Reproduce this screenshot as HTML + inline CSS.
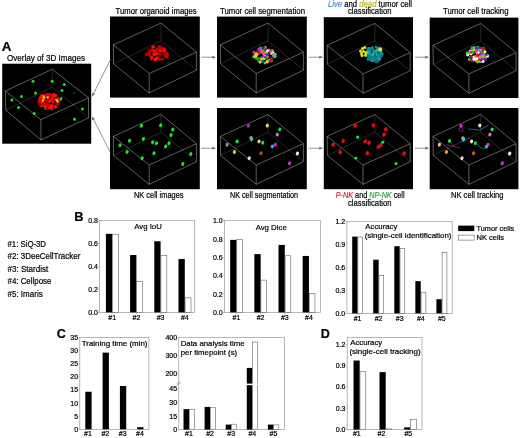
<!DOCTYPE html>
<html><head><meta charset="utf-8"><title>Figure</title>
<style>
html,body{margin:0;padding:0;background:#fff;}
body{width:520px;height:438px;overflow:hidden;font-family:"Liberation Sans", Arial, sans-serif;}
svg{display:block}
</style></head><body>
<svg width="520" height="438" viewBox="0 0 520 438">
<defs><filter id="b1" x="-5%" y="-5%" width="110%" height="110%"><feGaussianBlur stdDeviation="0.5"/></filter></defs>
<rect width="520" height="438" fill="#fff"/>
<g id="panels">
<rect x="2.2" y="63.7" width="89.0" height="80.0" fill="#000"/>
<line x1="52.2" y1="69.3" x2="52.2" y2="87.1" stroke="#555" stroke-width="0.45"/>
<line x1="52.2" y1="87.1" x2="5.8" y2="110.3" stroke="#555" stroke-width="0.45"/>
<line x1="52.2" y1="87.1" x2="88.5" y2="117.9" stroke="#555" stroke-width="0.45"/>
<line x1="5.4" y1="91.0" x2="52.2" y2="69.3" stroke="#b8b8b8" stroke-width="0.5"/>
<line x1="52.2" y1="69.3" x2="88.5" y2="97.7" stroke="#b8b8b8" stroke-width="0.5"/>
<line x1="88.5" y1="97.7" x2="40.9" y2="119.7" stroke="#b8b8b8" stroke-width="0.5"/>
<line x1="40.9" y1="119.7" x2="5.4" y2="91.0" stroke="#b8b8b8" stroke-width="0.5"/>
<line x1="5.4" y1="91.0" x2="5.8" y2="110.3" stroke="#b8b8b8" stroke-width="0.5"/>
<line x1="40.9" y1="119.7" x2="40.9" y2="139.9" stroke="#b8b8b8" stroke-width="0.5"/>
<line x1="88.5" y1="97.7" x2="88.5" y2="117.9" stroke="#b8b8b8" stroke-width="0.5"/>
<line x1="5.8" y1="110.3" x2="40.9" y2="139.9" stroke="#b8b8b8" stroke-width="0.5"/>
<line x1="40.9" y1="139.9" x2="88.5" y2="117.9" stroke="#b8b8b8" stroke-width="0.5"/>
<rect x="110.0" y="16.5" width="89.8" height="81.1" fill="#000"/>
<line x1="161.0" y1="23.0" x2="161.0" y2="40.7" stroke="#555" stroke-width="0.45"/>
<line x1="161.0" y1="40.7" x2="113.6" y2="63.9" stroke="#555" stroke-width="0.45"/>
<line x1="161.0" y1="40.7" x2="196.4" y2="70.2" stroke="#555" stroke-width="0.45"/>
<line x1="113.3" y1="44.9" x2="161.0" y2="23.0" stroke="#b8b8b8" stroke-width="0.5"/>
<line x1="161.0" y1="23.0" x2="196.4" y2="52.2" stroke="#b8b8b8" stroke-width="0.5"/>
<line x1="196.4" y1="52.2" x2="149.2" y2="73.5" stroke="#b8b8b8" stroke-width="0.5"/>
<line x1="149.2" y1="73.5" x2="113.3" y2="44.9" stroke="#b8b8b8" stroke-width="0.5"/>
<line x1="113.3" y1="44.9" x2="113.6" y2="63.9" stroke="#b8b8b8" stroke-width="0.5"/>
<line x1="149.2" y1="73.5" x2="149.2" y2="92.9" stroke="#b8b8b8" stroke-width="0.5"/>
<line x1="196.4" y1="52.2" x2="196.4" y2="70.2" stroke="#b8b8b8" stroke-width="0.5"/>
<line x1="113.6" y1="63.9" x2="149.2" y2="92.9" stroke="#b8b8b8" stroke-width="0.5"/>
<line x1="149.2" y1="92.9" x2="196.4" y2="70.2" stroke="#b8b8b8" stroke-width="0.5"/>
<rect x="110.0" y="108.0" width="89.8" height="81.2" fill="#000"/>
<line x1="161.0" y1="114.5" x2="161.0" y2="132.2" stroke="#555" stroke-width="0.45"/>
<line x1="161.0" y1="132.2" x2="113.6" y2="155.4" stroke="#555" stroke-width="0.45"/>
<line x1="161.0" y1="132.2" x2="196.4" y2="161.7" stroke="#555" stroke-width="0.45"/>
<line x1="113.3" y1="136.4" x2="161.0" y2="114.5" stroke="#b8b8b8" stroke-width="0.5"/>
<line x1="161.0" y1="114.5" x2="196.4" y2="143.7" stroke="#b8b8b8" stroke-width="0.5"/>
<line x1="196.4" y1="143.7" x2="149.2" y2="165.0" stroke="#b8b8b8" stroke-width="0.5"/>
<line x1="149.2" y1="165.0" x2="113.3" y2="136.4" stroke="#b8b8b8" stroke-width="0.5"/>
<line x1="113.3" y1="136.4" x2="113.6" y2="155.4" stroke="#b8b8b8" stroke-width="0.5"/>
<line x1="149.2" y1="165.0" x2="149.2" y2="184.4" stroke="#b8b8b8" stroke-width="0.5"/>
<line x1="196.4" y1="143.7" x2="196.4" y2="161.7" stroke="#b8b8b8" stroke-width="0.5"/>
<line x1="113.6" y1="155.4" x2="149.2" y2="184.4" stroke="#b8b8b8" stroke-width="0.5"/>
<line x1="149.2" y1="184.4" x2="196.4" y2="161.7" stroke="#b8b8b8" stroke-width="0.5"/>
<rect x="217.0" y="16.6" width="89.8" height="81.0" fill="#000"/>
<line x1="268.0" y1="23.0" x2="268.0" y2="40.7" stroke="#555" stroke-width="0.45"/>
<line x1="268.0" y1="40.7" x2="220.6" y2="63.9" stroke="#555" stroke-width="0.45"/>
<line x1="268.0" y1="40.7" x2="303.4" y2="70.2" stroke="#555" stroke-width="0.45"/>
<line x1="220.3" y1="44.9" x2="268.0" y2="23.0" stroke="#b8b8b8" stroke-width="0.5"/>
<line x1="268.0" y1="23.0" x2="303.4" y2="52.2" stroke="#b8b8b8" stroke-width="0.5"/>
<line x1="303.4" y1="52.2" x2="256.2" y2="73.5" stroke="#b8b8b8" stroke-width="0.5"/>
<line x1="256.2" y1="73.5" x2="220.3" y2="44.9" stroke="#b8b8b8" stroke-width="0.5"/>
<line x1="220.3" y1="44.9" x2="220.6" y2="63.9" stroke="#b8b8b8" stroke-width="0.5"/>
<line x1="256.2" y1="73.5" x2="256.2" y2="92.9" stroke="#b8b8b8" stroke-width="0.5"/>
<line x1="303.4" y1="52.2" x2="303.4" y2="70.2" stroke="#b8b8b8" stroke-width="0.5"/>
<line x1="220.6" y1="63.9" x2="256.2" y2="92.9" stroke="#b8b8b8" stroke-width="0.5"/>
<line x1="256.2" y1="92.9" x2="303.4" y2="70.2" stroke="#b8b8b8" stroke-width="0.5"/>
<rect x="217.0" y="108.0" width="89.8" height="81.2" fill="#000"/>
<line x1="268.0" y1="114.5" x2="268.0" y2="132.2" stroke="#555" stroke-width="0.45"/>
<line x1="268.0" y1="132.2" x2="220.6" y2="155.4" stroke="#555" stroke-width="0.45"/>
<line x1="268.0" y1="132.2" x2="303.4" y2="161.7" stroke="#555" stroke-width="0.45"/>
<line x1="220.3" y1="136.4" x2="268.0" y2="114.5" stroke="#b8b8b8" stroke-width="0.5"/>
<line x1="268.0" y1="114.5" x2="303.4" y2="143.7" stroke="#b8b8b8" stroke-width="0.5"/>
<line x1="303.4" y1="143.7" x2="256.2" y2="165.0" stroke="#b8b8b8" stroke-width="0.5"/>
<line x1="256.2" y1="165.0" x2="220.3" y2="136.4" stroke="#b8b8b8" stroke-width="0.5"/>
<line x1="220.3" y1="136.4" x2="220.6" y2="155.4" stroke="#b8b8b8" stroke-width="0.5"/>
<line x1="256.2" y1="165.0" x2="256.2" y2="184.4" stroke="#b8b8b8" stroke-width="0.5"/>
<line x1="303.4" y1="143.7" x2="303.4" y2="161.7" stroke="#b8b8b8" stroke-width="0.5"/>
<line x1="220.6" y1="155.4" x2="256.2" y2="184.4" stroke="#b8b8b8" stroke-width="0.5"/>
<line x1="256.2" y1="184.4" x2="303.4" y2="161.7" stroke="#b8b8b8" stroke-width="0.5"/>
<rect x="323.8" y="17.2" width="89.2" height="80.8" fill="#000"/>
<line x1="374.8" y1="23.4" x2="374.8" y2="41.1" stroke="#555" stroke-width="0.45"/>
<line x1="374.8" y1="41.1" x2="327.4" y2="64.3" stroke="#555" stroke-width="0.45"/>
<line x1="374.8" y1="41.1" x2="410.2" y2="70.6" stroke="#555" stroke-width="0.45"/>
<line x1="327.1" y1="45.3" x2="374.8" y2="23.4" stroke="#b8b8b8" stroke-width="0.5"/>
<line x1="374.8" y1="23.4" x2="410.2" y2="52.6" stroke="#b8b8b8" stroke-width="0.5"/>
<line x1="410.2" y1="52.6" x2="363.0" y2="73.9" stroke="#b8b8b8" stroke-width="0.5"/>
<line x1="363.0" y1="73.9" x2="327.1" y2="45.3" stroke="#b8b8b8" stroke-width="0.5"/>
<line x1="327.1" y1="45.3" x2="327.4" y2="64.3" stroke="#b8b8b8" stroke-width="0.5"/>
<line x1="363.0" y1="73.9" x2="363.0" y2="93.3" stroke="#b8b8b8" stroke-width="0.5"/>
<line x1="410.2" y1="52.6" x2="410.2" y2="70.6" stroke="#b8b8b8" stroke-width="0.5"/>
<line x1="327.4" y1="64.3" x2="363.0" y2="93.3" stroke="#b8b8b8" stroke-width="0.5"/>
<line x1="363.0" y1="93.3" x2="410.2" y2="70.6" stroke="#b8b8b8" stroke-width="0.5"/>
<rect x="323.8" y="108.0" width="89.2" height="81.2" fill="#000"/>
<line x1="374.8" y1="114.5" x2="374.8" y2="132.2" stroke="#555" stroke-width="0.45"/>
<line x1="374.8" y1="132.2" x2="327.4" y2="155.4" stroke="#555" stroke-width="0.45"/>
<line x1="374.8" y1="132.2" x2="410.2" y2="161.7" stroke="#555" stroke-width="0.45"/>
<line x1="327.1" y1="136.4" x2="374.8" y2="114.5" stroke="#b8b8b8" stroke-width="0.5"/>
<line x1="374.8" y1="114.5" x2="410.2" y2="143.7" stroke="#b8b8b8" stroke-width="0.5"/>
<line x1="410.2" y1="143.7" x2="363.0" y2="165.0" stroke="#b8b8b8" stroke-width="0.5"/>
<line x1="363.0" y1="165.0" x2="327.1" y2="136.4" stroke="#b8b8b8" stroke-width="0.5"/>
<line x1="327.1" y1="136.4" x2="327.4" y2="155.4" stroke="#b8b8b8" stroke-width="0.5"/>
<line x1="363.0" y1="165.0" x2="363.0" y2="184.4" stroke="#b8b8b8" stroke-width="0.5"/>
<line x1="410.2" y1="143.7" x2="410.2" y2="161.7" stroke="#b8b8b8" stroke-width="0.5"/>
<line x1="327.4" y1="155.4" x2="363.0" y2="184.4" stroke="#b8b8b8" stroke-width="0.5"/>
<line x1="363.0" y1="184.4" x2="410.2" y2="161.7" stroke="#b8b8b8" stroke-width="0.5"/>
<rect x="429.7" y="17.6" width="88.7" height="80.4" fill="#000"/>
<line x1="480.7" y1="23.4" x2="480.7" y2="41.1" stroke="#555" stroke-width="0.45"/>
<line x1="480.7" y1="41.1" x2="433.3" y2="64.3" stroke="#555" stroke-width="0.45"/>
<line x1="480.7" y1="41.1" x2="516.1" y2="70.6" stroke="#555" stroke-width="0.45"/>
<line x1="433.0" y1="45.3" x2="480.7" y2="23.4" stroke="#b8b8b8" stroke-width="0.5"/>
<line x1="480.7" y1="23.4" x2="516.1" y2="52.6" stroke="#b8b8b8" stroke-width="0.5"/>
<line x1="516.1" y1="52.6" x2="468.9" y2="73.9" stroke="#b8b8b8" stroke-width="0.5"/>
<line x1="468.9" y1="73.9" x2="433.0" y2="45.3" stroke="#b8b8b8" stroke-width="0.5"/>
<line x1="433.0" y1="45.3" x2="433.3" y2="64.3" stroke="#b8b8b8" stroke-width="0.5"/>
<line x1="468.9" y1="73.9" x2="468.9" y2="93.3" stroke="#b8b8b8" stroke-width="0.5"/>
<line x1="516.1" y1="52.6" x2="516.1" y2="70.6" stroke="#b8b8b8" stroke-width="0.5"/>
<line x1="433.3" y1="64.3" x2="468.9" y2="93.3" stroke="#b8b8b8" stroke-width="0.5"/>
<line x1="468.9" y1="93.3" x2="516.1" y2="70.6" stroke="#b8b8b8" stroke-width="0.5"/>
<rect x="429.7" y="108.0" width="88.7" height="81.2" fill="#000"/>
<line x1="480.7" y1="114.5" x2="480.7" y2="132.2" stroke="#555" stroke-width="0.45"/>
<line x1="480.7" y1="132.2" x2="433.3" y2="155.4" stroke="#555" stroke-width="0.45"/>
<line x1="480.7" y1="132.2" x2="516.1" y2="161.7" stroke="#555" stroke-width="0.45"/>
<line x1="433.0" y1="136.4" x2="480.7" y2="114.5" stroke="#b8b8b8" stroke-width="0.5"/>
<line x1="480.7" y1="114.5" x2="516.1" y2="143.7" stroke="#b8b8b8" stroke-width="0.5"/>
<line x1="516.1" y1="143.7" x2="468.9" y2="165.0" stroke="#b8b8b8" stroke-width="0.5"/>
<line x1="468.9" y1="165.0" x2="433.0" y2="136.4" stroke="#b8b8b8" stroke-width="0.5"/>
<line x1="433.0" y1="136.4" x2="433.3" y2="155.4" stroke="#b8b8b8" stroke-width="0.5"/>
<line x1="468.9" y1="165.0" x2="468.9" y2="184.4" stroke="#b8b8b8" stroke-width="0.5"/>
<line x1="516.1" y1="143.7" x2="516.1" y2="161.7" stroke="#b8b8b8" stroke-width="0.5"/>
<line x1="433.3" y1="155.4" x2="468.9" y2="184.4" stroke="#b8b8b8" stroke-width="0.5"/>
<line x1="468.9" y1="184.4" x2="516.1" y2="161.7" stroke="#b8b8b8" stroke-width="0.5"/>
</g>
<g filter="url(#b1)">
<ellipse cx="33.0" cy="81.2" rx="1.50" ry="1.50" fill="#22dd33"/>
<ellipse cx="52.2" cy="81.2" rx="1.50" ry="1.50" fill="#22dd33"/>
<ellipse cx="64.3" cy="84.5" rx="1.50" ry="1.50" fill="#22dd33"/>
<ellipse cx="62.0" cy="90.4" rx="1.50" ry="1.50" fill="#22dd33"/>
<ellipse cx="35.5" cy="92.9" rx="1.50" ry="1.50" fill="#22dd33"/>
<ellipse cx="21.5" cy="96.5" rx="1.50" ry="1.50" fill="#22dd33"/>
<ellipse cx="11.9" cy="100.0" rx="1.50" ry="1.50" fill="#22dd33"/>
<ellipse cx="18.6" cy="107.5" rx="1.50" ry="1.50" fill="#22dd33"/>
<ellipse cx="34.2" cy="113.4" rx="1.50" ry="1.50" fill="#22dd33"/>
<ellipse cx="82.5" cy="109.0" rx="1.50" ry="1.50" fill="#22dd33"/>
<ellipse cx="74.5" cy="119.2" rx="1.50" ry="1.50" fill="#22dd33"/>
<ellipse cx="45.5" cy="108.6" rx="1.30" ry="1.30" fill="#189028"/>
<ellipse cx="73.9" cy="93.1" rx="0.90" ry="0.90" fill="#116611"/>
<ellipse cx="45.0" cy="95.6" rx="1.79" ry="1.79" fill="#e00000"/>
<ellipse cx="50.6" cy="107.9" rx="1.39" ry="1.39" fill="#e00000"/>
<ellipse cx="47.4" cy="94.3" rx="1.28" ry="1.28" fill="#f01808"/>
<ellipse cx="39.3" cy="102.4" rx="2.05" ry="2.05" fill="#900000"/>
<ellipse cx="51.6" cy="108.6" rx="1.72" ry="1.72" fill="#f01808"/>
<ellipse cx="50.0" cy="95.4" rx="1.58" ry="1.58" fill="#b00000"/>
<ellipse cx="40.5" cy="98.2" rx="1.93" ry="1.93" fill="#ff1010"/>
<ellipse cx="40.2" cy="102.5" rx="1.37" ry="1.37" fill="#e00000"/>
<ellipse cx="49.8" cy="94.2" rx="1.25" ry="1.25" fill="#ff1010"/>
<ellipse cx="48.7" cy="101.8" rx="1.90" ry="1.90" fill="#f01808"/>
<ellipse cx="50.6" cy="100.5" rx="1.47" ry="1.47" fill="#ff1010"/>
<ellipse cx="53.1" cy="97.2" rx="1.72" ry="1.72" fill="#b00000"/>
<ellipse cx="48.7" cy="98.8" rx="1.60" ry="1.60" fill="#b00000"/>
<ellipse cx="47.0" cy="105.5" rx="1.34" ry="1.34" fill="#f01808"/>
<ellipse cx="47.1" cy="108.8" rx="1.27" ry="1.27" fill="#b00000"/>
<ellipse cx="50.4" cy="107.4" rx="1.48" ry="1.48" fill="#900000"/>
<ellipse cx="45.6" cy="101.2" rx="1.92" ry="1.92" fill="#e00000"/>
<ellipse cx="48.2" cy="104.0" rx="1.25" ry="1.25" fill="#900000"/>
<ellipse cx="44.7" cy="102.6" rx="1.81" ry="1.81" fill="#f01808"/>
<ellipse cx="44.1" cy="99.4" rx="1.80" ry="1.80" fill="#e00000"/>
<ellipse cx="58.3" cy="99.0" rx="1.75" ry="1.75" fill="#f01808"/>
<ellipse cx="40.8" cy="97.2" rx="1.55" ry="1.55" fill="#f01808"/>
<ellipse cx="39.7" cy="100.5" rx="1.69" ry="1.69" fill="#ff1010"/>
<ellipse cx="55.7" cy="107.2" rx="1.45" ry="1.45" fill="#f01808"/>
<ellipse cx="46.2" cy="96.9" rx="1.27" ry="1.27" fill="#ff1010"/>
<ellipse cx="43.0" cy="97.0" rx="1.64" ry="1.64" fill="#b00000"/>
<ellipse cx="41.9" cy="97.8" rx="1.33" ry="1.33" fill="#b00000"/>
<ellipse cx="46.0" cy="102.4" rx="2.06" ry="2.06" fill="#900000"/>
<ellipse cx="52.1" cy="105.2" rx="1.61" ry="1.61" fill="#900000"/>
<ellipse cx="55.2" cy="99.6" rx="1.56" ry="1.56" fill="#e00000"/>
<ellipse cx="48.4" cy="99.7" rx="1.37" ry="1.37" fill="#ff1010"/>
<ellipse cx="47.5" cy="95.0" rx="1.74" ry="1.74" fill="#e00000"/>
<ellipse cx="40.2" cy="99.1" rx="1.22" ry="1.22" fill="#ff1010"/>
<ellipse cx="51.3" cy="95.6" rx="1.43" ry="1.43" fill="#c80000"/>
<ellipse cx="51.0" cy="100.9" rx="1.30" ry="1.30" fill="#f01808"/>
<ellipse cx="59.5" cy="100.7" rx="1.64" ry="1.64" fill="#e00000"/>
<ellipse cx="41.1" cy="105.3" rx="1.87" ry="1.87" fill="#f01808"/>
<ellipse cx="55.9" cy="95.8" rx="1.22" ry="1.22" fill="#b00000"/>
<ellipse cx="45.8" cy="104.4" rx="2.02" ry="2.02" fill="#b00000"/>
<ellipse cx="44.4" cy="103.6" rx="1.28" ry="1.28" fill="#c80000"/>
<ellipse cx="49.2" cy="107.9" rx="1.52" ry="1.52" fill="#ff1010"/>
<ellipse cx="49.5" cy="105.8" rx="1.50" ry="1.50" fill="#ff1010"/>
<ellipse cx="51.2" cy="106.0" rx="1.88" ry="1.88" fill="#ff1010"/>
<ellipse cx="55.4" cy="106.5" rx="1.87" ry="1.87" fill="#ff1010"/>
<ellipse cx="42.3" cy="101.2" rx="1.86" ry="1.86" fill="#e00000"/>
<ellipse cx="55.1" cy="100.9" rx="1.37" ry="1.37" fill="#b00000"/>
<ellipse cx="58.7" cy="100.4" rx="2.04" ry="2.04" fill="#c80000"/>
<ellipse cx="58.6" cy="99.1" rx="1.40" ry="1.40" fill="#ff1010"/>
<ellipse cx="48.2" cy="98.7" rx="1.63" ry="1.63" fill="#b00000"/>
<ellipse cx="56.2" cy="101.0" rx="1.79" ry="1.79" fill="#900000"/>
<ellipse cx="39.8" cy="103.9" rx="2.02" ry="2.02" fill="#900000"/>
<ellipse cx="54.2" cy="100.9" rx="1.36" ry="1.36" fill="#900000"/>
<ellipse cx="45.2" cy="106.2" rx="2.07" ry="2.07" fill="#f01808"/>
<ellipse cx="48.0" cy="105.2" rx="1.28" ry="1.28" fill="#ff1010"/>
<ellipse cx="41.7" cy="95.3" rx="1.34" ry="1.34" fill="#f01808"/>
<ellipse cx="55.4" cy="95.6" rx="1.94" ry="1.94" fill="#f01808"/>
<ellipse cx="52.2" cy="98.9" rx="1.69" ry="1.69" fill="#ff1010"/>
<ellipse cx="53.7" cy="94.9" rx="1.87" ry="1.87" fill="#ff1010"/>
<ellipse cx="47.4" cy="107.3" rx="1.94" ry="1.94" fill="#ff1010"/>
<ellipse cx="48.8" cy="105.6" rx="1.49" ry="1.49" fill="#b00000"/>
<ellipse cx="47.1" cy="95.3" rx="2.02" ry="2.02" fill="#c80000"/>
<ellipse cx="57.4" cy="103.9" rx="1.93" ry="1.93" fill="#b00000"/>
<ellipse cx="47.1" cy="108.1" rx="1.65" ry="1.65" fill="#b00000"/>
<ellipse cx="41.3" cy="101.5" rx="1.99" ry="1.99" fill="#ff1010"/>
<ellipse cx="51.1" cy="105.8" rx="1.33" ry="1.33" fill="#ff1010"/>
<ellipse cx="48.2" cy="104.9" rx="1.70" ry="1.70" fill="#c80000"/>
<ellipse cx="52.7" cy="101.8" rx="1.63" ry="1.63" fill="#e00000"/>
<ellipse cx="40.1" cy="100.5" rx="1.23" ry="1.23" fill="#e00000"/>
<ellipse cx="47.6" cy="103.1" rx="1.65" ry="1.65" fill="#b00000"/>
<ellipse cx="42.3" cy="97.7" rx="1.66" ry="1.66" fill="#f01808"/>
<ellipse cx="49.0" cy="97.2" rx="1.67" ry="1.67" fill="#c80000"/>
<ellipse cx="42.4" cy="100.4" rx="1.57" ry="1.57" fill="#f01808"/>
<ellipse cx="47.5" cy="94.4" rx="1.42" ry="1.42" fill="#e00000"/>
<ellipse cx="42.6" cy="98.1" rx="1.31" ry="1.31" fill="#ff1010"/>
<ellipse cx="58.3" cy="103.6" rx="1.53" ry="1.53" fill="#c80000"/>
<ellipse cx="61.2" cy="98.6" rx="1.10" ry="2.00" fill="#22dd33" transform="rotate(15 61.2 98.6)"/>
<ellipse cx="43.6" cy="96.3" rx="1.15" ry="1.15" fill="#e8d820"/>
<ellipse cx="44.2" cy="98.0" rx="1.15" ry="1.15" fill="#e8d820"/>
<ellipse cx="47.7" cy="97.5" rx="1.15" ry="1.15" fill="#e8d820"/>
<ellipse cx="57.5" cy="101.5" rx="1.15" ry="1.15" fill="#e8d820"/>
<ellipse cx="56.5" cy="100.0" rx="1.15" ry="1.15" fill="#e8d820"/>
<ellipse cx="43.0" cy="100.5" rx="1.15" ry="1.15" fill="#e8d820"/>
<ellipse cx="154.8" cy="53.8" rx="1.89" ry="1.89" fill="#ff1010"/>
<ellipse cx="149.7" cy="53.0" rx="1.51" ry="1.51" fill="#c80000"/>
<ellipse cx="155.3" cy="51.9" rx="1.17" ry="1.17" fill="#c80000"/>
<ellipse cx="146.6" cy="54.8" rx="1.45" ry="1.45" fill="#e00000"/>
<ellipse cx="154.5" cy="54.3" rx="1.34" ry="1.34" fill="#e00000"/>
<ellipse cx="151.1" cy="59.6" rx="1.17" ry="1.17" fill="#c80000"/>
<ellipse cx="152.0" cy="48.5" rx="1.44" ry="1.44" fill="#700000"/>
<ellipse cx="163.9" cy="50.4" rx="1.22" ry="1.22" fill="#a80000"/>
<ellipse cx="158.5" cy="57.0" rx="1.17" ry="1.17" fill="#e00000"/>
<ellipse cx="163.5" cy="49.3" rx="1.82" ry="1.82" fill="#c80000"/>
<ellipse cx="166.5" cy="56.0" rx="1.74" ry="1.74" fill="#e00000"/>
<ellipse cx="159.3" cy="49.9" rx="1.31" ry="1.31" fill="#e00000"/>
<ellipse cx="156.0" cy="51.6" rx="1.54" ry="1.54" fill="#c80000"/>
<ellipse cx="159.6" cy="47.2" rx="1.67" ry="1.67" fill="#e00000"/>
<ellipse cx="159.8" cy="54.5" rx="1.26" ry="1.26" fill="#f01808"/>
<ellipse cx="157.0" cy="49.2" rx="1.38" ry="1.38" fill="#e00000"/>
<ellipse cx="146.6" cy="54.1" rx="1.88" ry="1.88" fill="#a80000"/>
<ellipse cx="156.5" cy="60.5" rx="1.19" ry="1.19" fill="#700000"/>
<ellipse cx="155.5" cy="53.9" rx="1.77" ry="1.77" fill="#f01808"/>
<ellipse cx="150.8" cy="50.0" rx="1.26" ry="1.26" fill="#700000"/>
<ellipse cx="161.9" cy="48.6" rx="1.89" ry="1.89" fill="#e00000"/>
<ellipse cx="159.7" cy="59.7" rx="1.44" ry="1.44" fill="#e00000"/>
<ellipse cx="165.0" cy="56.5" rx="1.33" ry="1.33" fill="#ff1010"/>
<ellipse cx="161.2" cy="47.2" rx="1.25" ry="1.25" fill="#c80000"/>
<ellipse cx="155.8" cy="50.5" rx="1.87" ry="1.87" fill="#a80000"/>
<ellipse cx="153.2" cy="47.0" rx="1.81" ry="1.81" fill="#ff1010"/>
<ellipse cx="154.4" cy="53.6" rx="1.50" ry="1.50" fill="#ff1010"/>
<ellipse cx="151.6" cy="58.1" rx="1.17" ry="1.17" fill="#e00000"/>
<ellipse cx="149.3" cy="55.3" rx="1.42" ry="1.42" fill="#c80000"/>
<ellipse cx="152.8" cy="50.0" rx="1.57" ry="1.57" fill="#a80000"/>
<ellipse cx="164.6" cy="48.8" rx="1.81" ry="1.81" fill="#a80000"/>
<ellipse cx="154.6" cy="51.4" rx="1.89" ry="1.89" fill="#ff1010"/>
<ellipse cx="152.3" cy="55.8" rx="1.22" ry="1.22" fill="#700000"/>
<ellipse cx="165.5" cy="55.9" rx="1.69" ry="1.69" fill="#a80000"/>
<ellipse cx="149.2" cy="54.4" rx="1.50" ry="1.50" fill="#e00000"/>
<ellipse cx="164.1" cy="55.3" rx="1.81" ry="1.81" fill="#700000"/>
<ellipse cx="166.9" cy="56.1" rx="1.17" ry="1.17" fill="#e00000"/>
<ellipse cx="149.1" cy="51.9" rx="1.18" ry="1.18" fill="#f01808"/>
<ellipse cx="158.3" cy="55.9" rx="1.60" ry="1.60" fill="#700000"/>
<ellipse cx="151.5" cy="50.5" rx="1.47" ry="1.47" fill="#e00000"/>
<ellipse cx="162.4" cy="54.0" rx="1.53" ry="1.53" fill="#700000"/>
<ellipse cx="157.6" cy="57.7" rx="1.48" ry="1.48" fill="#e00000"/>
<ellipse cx="164.5" cy="50.0" rx="1.71" ry="1.71" fill="#ff1010"/>
<ellipse cx="156.9" cy="52.2" rx="1.48" ry="1.48" fill="#700000"/>
<ellipse cx="159.9" cy="49.5" rx="1.58" ry="1.58" fill="#c80000"/>
<ellipse cx="151.7" cy="57.6" rx="1.34" ry="1.34" fill="#a80000"/>
<ellipse cx="149.1" cy="53.7" rx="1.49" ry="1.49" fill="#700000"/>
<ellipse cx="148.3" cy="49.8" rx="1.49" ry="1.49" fill="#700000"/>
<ellipse cx="157.4" cy="53.5" rx="1.47" ry="1.47" fill="#e00000"/>
<ellipse cx="167.7" cy="54.7" rx="1.35" ry="1.35" fill="#e00000"/>
<ellipse cx="156.1" cy="58.8" rx="1.87" ry="1.87" fill="#f01808"/>
<ellipse cx="162.3" cy="50.4" rx="1.39" ry="1.39" fill="#a80000"/>
<ellipse cx="163.9" cy="54.1" rx="1.81" ry="1.81" fill="#700000"/>
<ellipse cx="154.1" cy="54.0" rx="1.80" ry="1.80" fill="#f01808"/>
<ellipse cx="156.8" cy="53.3" rx="1.34" ry="1.34" fill="#ff1010"/>
<ellipse cx="155.2" cy="52.1" rx="1.20" ry="1.20" fill="#c80000"/>
<ellipse cx="166.2" cy="57.2" rx="1.82" ry="1.82" fill="#c80000"/>
<ellipse cx="154.6" cy="59.5" rx="1.16" ry="1.16" fill="#f01808"/>
<ellipse cx="162.5" cy="59.3" rx="1.32" ry="1.32" fill="#e00000"/>
<ellipse cx="164.2" cy="50.8" rx="1.85" ry="1.85" fill="#ff1010"/>
<ellipse cx="167.2" cy="53.0" rx="1.35" ry="1.35" fill="#c80000"/>
<ellipse cx="163.2" cy="52.9" rx="1.12" ry="1.12" fill="#700000"/>
<ellipse cx="154.8" cy="59.6" rx="1.54" ry="1.54" fill="#ff1010"/>
<ellipse cx="162.0" cy="53.3" rx="1.70" ry="1.70" fill="#700000"/>
<ellipse cx="165.0" cy="53.8" rx="1.83" ry="1.83" fill="#a80000"/>
<ellipse cx="148.9" cy="53.6" rx="1.37" ry="1.37" fill="#c80000"/>
<ellipse cx="151.7" cy="57.6" rx="1.62" ry="1.62" fill="#f01808"/>
<ellipse cx="160.4" cy="51.0" rx="1.55" ry="1.55" fill="#f01808"/>
<ellipse cx="148.8" cy="56.1" rx="1.16" ry="1.16" fill="#a80000"/>
<ellipse cx="165.8" cy="54.0" rx="1.28" ry="1.28" fill="#c80000"/>
<ellipse cx="141.4" cy="125.8" rx="1.55" ry="2.00" fill="#20e030" transform="rotate(25 141.4 125.8)"/>
<ellipse cx="160.7" cy="125.3" rx="1.55" ry="2.00" fill="#20e030" transform="rotate(25 160.7 125.3)"/>
<ellipse cx="172.8" cy="129.6" rx="1.55" ry="2.00" fill="#20e030" transform="rotate(25 172.8 129.6)"/>
<ellipse cx="171.0" cy="135.1" rx="1.55" ry="2.00" fill="#20e030" transform="rotate(25 171.0 135.1)"/>
<ellipse cx="129.6" cy="140.7" rx="1.55" ry="2.00" fill="#20e030" transform="rotate(25 129.6 140.7)"/>
<ellipse cx="143.4" cy="138.9" rx="1.55" ry="2.00" fill="#20e030" transform="rotate(25 143.4 138.9)"/>
<ellipse cx="152.7" cy="142.2" rx="1.55" ry="2.00" fill="#20e030" transform="rotate(25 152.7 142.2)"/>
<ellipse cx="156.5" cy="143.2" rx="1.55" ry="2.00" fill="#20e030" transform="rotate(25 156.5 143.2)"/>
<ellipse cx="169.0" cy="143.2" rx="1.55" ry="2.00" fill="#20e030" transform="rotate(25 169.0 143.2)"/>
<ellipse cx="165.7" cy="146.4" rx="1.55" ry="2.00" fill="#20e030" transform="rotate(25 165.7 146.4)"/>
<ellipse cx="120.1" cy="145.2" rx="1.55" ry="2.00" fill="#20e030" transform="rotate(25 120.1 145.2)"/>
<ellipse cx="127.1" cy="151.9" rx="1.55" ry="2.00" fill="#20e030" transform="rotate(25 127.1 151.9)"/>
<ellipse cx="154.0" cy="153.2" rx="1.55" ry="2.00" fill="#20e030" transform="rotate(25 154.0 153.2)"/>
<ellipse cx="142.2" cy="158.2" rx="1.55" ry="2.00" fill="#20e030" transform="rotate(25 142.2 158.2)"/>
<ellipse cx="190.8" cy="154.0" rx="1.55" ry="2.00" fill="#20e030" transform="rotate(25 190.8 154.0)"/>
<ellipse cx="182.8" cy="164.0" rx="1.55" ry="2.00" fill="#20e030" transform="rotate(25 182.8 164.0)"/>
<ellipse cx="182.3" cy="138.9" rx="0.70" ry="0.70" fill="#115511"/>
<ellipse cx="275.2" cy="54.2" rx="1.31" ry="1.31" fill="#e8d020"/>
<ellipse cx="258.7" cy="49.7" rx="1.64" ry="1.64" fill="#18c8c8"/>
<ellipse cx="258.6" cy="51.1" rx="1.66" ry="1.66" fill="#303030"/>
<ellipse cx="261.7" cy="59.0" rx="1.37" ry="1.37" fill="#e030c8"/>
<ellipse cx="260.7" cy="47.9" rx="1.42" ry="1.42" fill="#18c8c8"/>
<ellipse cx="256.1" cy="55.1" rx="1.70" ry="1.70" fill="#801890"/>
<ellipse cx="273.0" cy="53.1" rx="1.72" ry="1.72" fill="#ffffff"/>
<ellipse cx="273.0" cy="54.6" rx="1.67" ry="1.67" fill="#e01818"/>
<ellipse cx="273.7" cy="55.5" rx="1.57" ry="1.57" fill="#e88018"/>
<ellipse cx="258.8" cy="48.7" rx="1.32" ry="1.32" fill="#9030e0"/>
<ellipse cx="271.4" cy="58.3" rx="1.88" ry="1.88" fill="#303030"/>
<ellipse cx="263.4" cy="55.8" rx="1.23" ry="1.23" fill="#107828"/>
<ellipse cx="256.1" cy="56.1" rx="1.23" ry="1.23" fill="#60d848"/>
<ellipse cx="260.0" cy="49.0" rx="1.40" ry="1.40" fill="#e85890"/>
<ellipse cx="262.9" cy="59.3" rx="1.28" ry="1.28" fill="#e030c8"/>
<ellipse cx="264.8" cy="56.3" rx="1.51" ry="1.51" fill="#e8d020"/>
<ellipse cx="265.1" cy="63.0" rx="1.42" ry="1.42" fill="#18c8c8"/>
<ellipse cx="267.5" cy="61.2" rx="1.58" ry="1.58" fill="#e8d020"/>
<ellipse cx="265.3" cy="47.4" rx="1.53" ry="1.53" fill="#e85890"/>
<ellipse cx="264.3" cy="57.8" rx="1.54" ry="1.54" fill="#e030c8"/>
<ellipse cx="258.3" cy="53.8" rx="1.50" ry="1.50" fill="#e88018"/>
<ellipse cx="254.1" cy="52.4" rx="1.54" ry="1.54" fill="#e85890"/>
<ellipse cx="259.7" cy="60.6" rx="1.25" ry="1.25" fill="#e88018"/>
<ellipse cx="271.3" cy="50.6" rx="1.38" ry="1.38" fill="#107828"/>
<ellipse cx="267.0" cy="56.8" rx="1.92" ry="1.92" fill="#e88018"/>
<ellipse cx="262.5" cy="57.7" rx="1.96" ry="1.96" fill="#2840d8"/>
<ellipse cx="253.8" cy="56.6" rx="1.53" ry="1.53" fill="#60d848"/>
<ellipse cx="254.6" cy="53.3" rx="1.92" ry="1.92" fill="#303030"/>
<ellipse cx="260.2" cy="48.7" rx="1.26" ry="1.26" fill="#2840d8"/>
<ellipse cx="260.6" cy="49.9" rx="1.95" ry="1.95" fill="#60d848"/>
<ellipse cx="263.6" cy="52.0" rx="1.78" ry="1.78" fill="#801890"/>
<ellipse cx="261.5" cy="52.3" rx="1.34" ry="1.34" fill="#e01818"/>
<ellipse cx="262.5" cy="61.2" rx="1.65" ry="1.65" fill="#107828"/>
<ellipse cx="257.9" cy="52.7" rx="1.86" ry="1.86" fill="#801890"/>
<ellipse cx="268.8" cy="50.1" rx="1.63" ry="1.63" fill="#e88018"/>
<ellipse cx="257.6" cy="52.8" rx="1.92" ry="1.92" fill="#e01818"/>
<ellipse cx="267.2" cy="50.9" rx="1.70" ry="1.70" fill="#ffffff"/>
<ellipse cx="259.0" cy="59.0" rx="1.92" ry="1.92" fill="#18c8c8"/>
<ellipse cx="261.3" cy="52.3" rx="1.96" ry="1.96" fill="#e01818"/>
<ellipse cx="259.1" cy="58.5" rx="1.45" ry="1.45" fill="#e030c8"/>
<ellipse cx="259.9" cy="58.6" rx="1.68" ry="1.68" fill="#107828"/>
<ellipse cx="267.2" cy="62.2" rx="1.22" ry="1.22" fill="#e8d020"/>
<ellipse cx="255.7" cy="58.5" rx="1.57" ry="1.57" fill="#107828"/>
<ellipse cx="261.8" cy="51.0" rx="1.54" ry="1.54" fill="#e88018"/>
<ellipse cx="256.2" cy="54.9" rx="1.21" ry="1.21" fill="#303030"/>
<ellipse cx="269.5" cy="60.2" rx="1.82" ry="1.82" fill="#d8b890"/>
<ellipse cx="258.5" cy="60.9" rx="1.57" ry="1.57" fill="#107828"/>
<ellipse cx="257.7" cy="59.1" rx="1.40" ry="1.40" fill="#18b038"/>
<ellipse cx="267.6" cy="54.7" rx="1.64" ry="1.64" fill="#2840d8"/>
<ellipse cx="264.3" cy="58.4" rx="1.56" ry="1.56" fill="#e8d020"/>
<ellipse cx="256.2" cy="54.4" rx="1.91" ry="1.91" fill="#e8d020"/>
<ellipse cx="269.7" cy="60.6" rx="1.73" ry="1.73" fill="#18b038"/>
<ellipse cx="270.4" cy="51.7" rx="1.42" ry="1.42" fill="#e030c8"/>
<ellipse cx="261.5" cy="58.9" rx="1.36" ry="1.36" fill="#e8d020"/>
<ellipse cx="257.4" cy="50.7" rx="1.43" ry="1.43" fill="#303030"/>
<ellipse cx="266.0" cy="52.2" rx="1.52" ry="1.52" fill="#e8d020"/>
<ellipse cx="264.5" cy="50.6" rx="1.85" ry="1.85" fill="#e85890"/>
<ellipse cx="263.5" cy="47.5" rx="1.20" ry="1.20" fill="#303030"/>
<ellipse cx="271.3" cy="60.5" rx="1.93" ry="1.93" fill="#e01818"/>
<ellipse cx="272.6" cy="50.7" rx="1.24" ry="1.24" fill="#d8b890"/>
<ellipse cx="274.7" cy="56.3" rx="1.94" ry="1.94" fill="#18c8c8"/>
<ellipse cx="264.6" cy="49.8" rx="1.68" ry="1.68" fill="#107828"/>
<ellipse cx="255.6" cy="56.6" rx="1.70" ry="1.70" fill="#e8d020"/>
<ellipse cx="254.1" cy="52.4" rx="1.24" ry="1.24" fill="#e030c8"/>
<ellipse cx="271.3" cy="53.5" rx="1.50" ry="1.50" fill="#d8b890"/>
<ellipse cx="260.2" cy="50.2" rx="1.84" ry="1.84" fill="#9030e0"/>
<ellipse cx="263.9" cy="53.5" rx="1.84" ry="1.84" fill="#e85890"/>
<ellipse cx="265.4" cy="57.3" rx="1.27" ry="1.27" fill="#2840d8"/>
<ellipse cx="262.1" cy="51.3" rx="1.99" ry="1.99" fill="#e85890"/>
<ellipse cx="260.1" cy="62.3" rx="1.45" ry="1.45" fill="#d8b890"/>
<ellipse cx="248.4" cy="125.8" rx="1.60" ry="2.00" fill="#9030b0" transform="rotate(15 248.4 125.8)"/>
<ellipse cx="267.3" cy="125.6" rx="1.60" ry="2.00" fill="#e8d070" transform="rotate(15 267.3 125.6)"/>
<ellipse cx="279.8" cy="129.4" rx="1.60" ry="2.00" fill="#20d060" transform="rotate(15 279.8 129.4)"/>
<ellipse cx="277.3" cy="134.6" rx="1.60" ry="2.00" fill="#d070d0" transform="rotate(15 277.3 134.6)"/>
<ellipse cx="251.0" cy="138.0" rx="1.60" ry="2.00" fill="#ff9040" transform="rotate(15 251.0 138.0)"/>
<ellipse cx="251.6" cy="139.2" rx="1.60" ry="2.00" fill="#30c0c0" transform="rotate(15 251.6 139.2)"/>
<ellipse cx="237.1" cy="141.4" rx="1.60" ry="2.00" fill="#20e050" transform="rotate(15 237.1 141.4)"/>
<ellipse cx="259.0" cy="141.4" rx="1.60" ry="2.00" fill="#e0d0a0" transform="rotate(15 259.0 141.4)"/>
<ellipse cx="262.7" cy="142.7" rx="1.60" ry="2.00" fill="#30d060" transform="rotate(15 262.7 142.7)"/>
<ellipse cx="275.3" cy="144.7" rx="1.60" ry="2.00" fill="#e020e0" transform="rotate(15 275.3 144.7)"/>
<ellipse cx="272.3" cy="146.4" rx="1.60" ry="2.00" fill="#20c0d0" transform="rotate(15 272.3 146.4)"/>
<ellipse cx="227.1" cy="144.7" rx="1.60" ry="2.00" fill="#8a9080" transform="rotate(15 227.1 144.7)"/>
<ellipse cx="234.4" cy="152.0" rx="1.60" ry="2.00" fill="#e8c040" transform="rotate(15 234.4 152.0)"/>
<ellipse cx="261.0" cy="153.2" rx="1.60" ry="2.00" fill="#c04828" transform="rotate(15 261.0 153.2)"/>
<ellipse cx="249.2" cy="158.2" rx="1.60" ry="2.00" fill="#f0d8c0" transform="rotate(15 249.2 158.2)"/>
<ellipse cx="297.4" cy="153.5" rx="1.60" ry="2.00" fill="#f0f0e0" transform="rotate(15 297.4 153.5)"/>
<ellipse cx="289.6" cy="163.2" rx="1.60" ry="2.00" fill="#d030d0" transform="rotate(15 289.6 163.2)"/>
<ellipse cx="379.9" cy="53.0" rx="1.32" ry="1.32" fill="#0c8088"/>
<ellipse cx="376.1" cy="52.7" rx="1.66" ry="1.66" fill="#109098"/>
<ellipse cx="372.8" cy="49.0" rx="1.40" ry="1.40" fill="#109098"/>
<ellipse cx="372.3" cy="60.5" rx="1.71" ry="1.71" fill="#18a0a8"/>
<ellipse cx="368.1" cy="59.3" rx="1.66" ry="1.66" fill="#0a7078"/>
<ellipse cx="375.7" cy="52.4" rx="1.75" ry="1.75" fill="#18a0a8"/>
<ellipse cx="371.4" cy="49.0" rx="1.45" ry="1.45" fill="#109098"/>
<ellipse cx="367.6" cy="54.2" rx="2.02" ry="2.02" fill="#18a0a8"/>
<ellipse cx="370.7" cy="59.7" rx="1.34" ry="1.34" fill="#20a8b0"/>
<ellipse cx="370.9" cy="56.1" rx="1.87" ry="1.87" fill="#109098"/>
<ellipse cx="380.2" cy="56.3" rx="2.04" ry="2.04" fill="#18a0a8"/>
<ellipse cx="376.0" cy="60.0" rx="1.86" ry="1.86" fill="#0a7078"/>
<ellipse cx="379.3" cy="59.6" rx="1.46" ry="1.46" fill="#18a0a8"/>
<ellipse cx="368.4" cy="52.2" rx="1.43" ry="1.43" fill="#18a0a8"/>
<ellipse cx="366.5" cy="55.4" rx="1.98" ry="1.98" fill="#109098"/>
<ellipse cx="376.5" cy="51.6" rx="1.65" ry="1.65" fill="#20a8b0"/>
<ellipse cx="374.6" cy="56.4" rx="1.58" ry="1.58" fill="#20a8b0"/>
<ellipse cx="370.8" cy="50.4" rx="1.65" ry="1.65" fill="#0c8088"/>
<ellipse cx="373.0" cy="53.4" rx="1.32" ry="1.32" fill="#0a7078"/>
<ellipse cx="381.5" cy="53.8" rx="1.70" ry="1.70" fill="#0a7078"/>
<ellipse cx="378.2" cy="53.7" rx="1.46" ry="1.46" fill="#20a8b0"/>
<ellipse cx="372.2" cy="47.5" rx="1.62" ry="1.62" fill="#0c8088"/>
<ellipse cx="367.3" cy="53.5" rx="1.76" ry="1.76" fill="#109098"/>
<ellipse cx="380.5" cy="51.4" rx="1.95" ry="1.95" fill="#109098"/>
<ellipse cx="366.7" cy="54.5" rx="1.64" ry="1.64" fill="#18a0a8"/>
<ellipse cx="375.6" cy="57.4" rx="1.40" ry="1.40" fill="#18a0a8"/>
<ellipse cx="381.4" cy="54.3" rx="2.16" ry="2.16" fill="#18a0a8"/>
<ellipse cx="376.7" cy="57.9" rx="1.50" ry="1.50" fill="#0c8088"/>
<ellipse cx="375.5" cy="50.5" rx="1.59" ry="1.59" fill="#0a7078"/>
<ellipse cx="370.2" cy="59.4" rx="1.43" ry="1.43" fill="#0a7078"/>
<ellipse cx="381.2" cy="54.1" rx="1.83" ry="1.83" fill="#0a7078"/>
<ellipse cx="373.9" cy="51.5" rx="1.33" ry="1.33" fill="#18a0a8"/>
<ellipse cx="372.3" cy="56.6" rx="1.55" ry="1.55" fill="#0c8088"/>
<ellipse cx="378.3" cy="48.3" rx="1.78" ry="1.78" fill="#0c8088"/>
<ellipse cx="381.2" cy="53.7" rx="1.77" ry="1.77" fill="#109098"/>
<ellipse cx="369.9" cy="55.0" rx="2.07" ry="2.07" fill="#0c8088"/>
<ellipse cx="375.0" cy="52.2" rx="1.99" ry="1.99" fill="#20a8b0"/>
<ellipse cx="369.5" cy="56.2" rx="2.16" ry="2.16" fill="#0c8088"/>
<ellipse cx="378.9" cy="50.5" rx="1.88" ry="1.88" fill="#0a7078"/>
<ellipse cx="377.5" cy="58.3" rx="1.50" ry="1.50" fill="#0c8088"/>
<ellipse cx="375.6" cy="53.3" rx="1.76" ry="1.76" fill="#109098"/>
<ellipse cx="368.0" cy="50.1" rx="1.89" ry="1.89" fill="#109098"/>
<ellipse cx="366.7" cy="55.5" rx="1.57" ry="1.57" fill="#0a7078"/>
<ellipse cx="371.5" cy="50.0" rx="1.83" ry="1.83" fill="#0a7078"/>
<ellipse cx="368.0" cy="52.3" rx="2.05" ry="2.05" fill="#18a0a8"/>
<ellipse cx="369.7" cy="48.8" rx="1.39" ry="1.39" fill="#18a0a8"/>
<ellipse cx="379.7" cy="58.9" rx="1.66" ry="1.66" fill="#0c8088"/>
<ellipse cx="375.3" cy="55.6" rx="1.84" ry="1.84" fill="#0a7078"/>
<ellipse cx="377.5" cy="50.4" rx="2.11" ry="2.11" fill="#109098"/>
<ellipse cx="368.8" cy="49.0" rx="2.12" ry="2.12" fill="#109098"/>
<ellipse cx="366.1" cy="55.2" rx="2.15" ry="2.15" fill="#18a0a8"/>
<ellipse cx="372.4" cy="54.7" rx="1.88" ry="1.88" fill="#20a8b0"/>
<ellipse cx="378.8" cy="49.2" rx="1.58" ry="1.58" fill="#0c8088"/>
<ellipse cx="377.4" cy="54.1" rx="1.78" ry="1.78" fill="#20a8b0"/>
<ellipse cx="379.3" cy="58.3" rx="1.72" ry="1.72" fill="#20a8b0"/>
<ellipse cx="370.0" cy="56.7" rx="1.41" ry="1.41" fill="#0c8088"/>
<ellipse cx="377.2" cy="50.7" rx="1.80" ry="1.80" fill="#20a8b0"/>
<ellipse cx="376.7" cy="61.0" rx="2.17" ry="2.17" fill="#0c8088"/>
<ellipse cx="376.0" cy="61.8" rx="1.50" ry="1.50" fill="#0a7078"/>
<ellipse cx="369.6" cy="58.3" rx="2.15" ry="2.15" fill="#0c8088"/>
<ellipse cx="368.9" cy="52.6" rx="1.84" ry="1.84" fill="#20a8b0"/>
<ellipse cx="380.3" cy="56.5" rx="1.92" ry="1.92" fill="#0a7078"/>
<ellipse cx="373.3" cy="59.8" rx="1.93" ry="1.93" fill="#109098"/>
<ellipse cx="372.8" cy="58.0" rx="1.81" ry="1.81" fill="#0c8088"/>
<ellipse cx="378.4" cy="52.7" rx="1.83" ry="1.83" fill="#0a7078"/>
<ellipse cx="380.6" cy="51.9" rx="1.43" ry="1.43" fill="#109098"/>
<ellipse cx="376.1" cy="47.2" rx="1.36" ry="1.36" fill="#109098"/>
<ellipse cx="366.9" cy="55.8" rx="1.63" ry="1.63" fill="#0a7078"/>
<ellipse cx="369.1" cy="48.3" rx="1.33" ry="1.33" fill="#109098"/>
<ellipse cx="378.9" cy="56.5" rx="1.56" ry="1.56" fill="#109098"/>
<ellipse cx="360.5" cy="51.0" rx="1.50" ry="1.50" fill="#e8e020"/>
<ellipse cx="361.5" cy="53.5" rx="1.50" ry="1.50" fill="#e8e020"/>
<ellipse cx="362.5" cy="48.5" rx="1.50" ry="1.50" fill="#e8e020"/>
<ellipse cx="363.5" cy="51.5" rx="1.50" ry="1.50" fill="#e8e020"/>
<ellipse cx="364.8" cy="47.5" rx="1.50" ry="1.50" fill="#e8e020"/>
<ellipse cx="365.5" cy="55.0" rx="1.50" ry="1.50" fill="#e8e020"/>
<ellipse cx="362.0" cy="55.5" rx="1.50" ry="1.50" fill="#e8e020"/>
<ellipse cx="366.0" cy="52.5" rx="1.50" ry="1.50" fill="#e8e020"/>
<ellipse cx="380.2" cy="49.4" rx="2.10" ry="2.10" fill="#d8e838"/>
<ellipse cx="355.2" cy="125.8" rx="1.80" ry="2.20" fill="#d81018" transform="rotate(15 355.2 125.8)"/>
<ellipse cx="373.5" cy="125.3" rx="1.80" ry="2.20" fill="#d81018" transform="rotate(15 373.5 125.3)"/>
<ellipse cx="385.8" cy="129.4" rx="1.80" ry="2.20" fill="#d81018" transform="rotate(15 385.8 129.4)"/>
<ellipse cx="384.0" cy="134.6" rx="1.80" ry="2.20" fill="#d81018" transform="rotate(15 384.0 134.6)"/>
<ellipse cx="343.2" cy="140.9" rx="1.80" ry="2.20" fill="#d81018" transform="rotate(15 343.2 140.9)"/>
<ellipse cx="333.1" cy="144.7" rx="1.80" ry="2.20" fill="#d81018" transform="rotate(15 333.1 144.7)"/>
<ellipse cx="365.2" cy="141.4" rx="1.80" ry="2.20" fill="#d81018" transform="rotate(15 365.2 141.4)"/>
<ellipse cx="369.0" cy="142.7" rx="1.80" ry="2.20" fill="#d81018" transform="rotate(15 369.0 142.7)"/>
<ellipse cx="380.8" cy="145.2" rx="1.80" ry="2.20" fill="#d81018" transform="rotate(15 380.8 145.2)"/>
<ellipse cx="378.3" cy="146.9" rx="1.80" ry="2.20" fill="#d81018" transform="rotate(15 378.3 146.9)"/>
<ellipse cx="340.2" cy="152.2" rx="1.80" ry="2.20" fill="#d81018" transform="rotate(15 340.2 152.2)"/>
<ellipse cx="367.3" cy="153.2" rx="1.80" ry="2.20" fill="#d81018" transform="rotate(15 367.3 153.2)"/>
<ellipse cx="404.1" cy="153.5" rx="1.80" ry="2.20" fill="#d81018" transform="rotate(15 404.1 153.5)"/>
<ellipse cx="357.7" cy="137.2" rx="1.60" ry="1.60" fill="#20e030"/>
<ellipse cx="382.7" cy="142.2" rx="1.60" ry="1.60" fill="#20e030"/>
<ellipse cx="355.8" cy="158.0" rx="1.60" ry="1.60" fill="#20e030"/>
<ellipse cx="396.0" cy="163.6" rx="1.60" ry="1.60" fill="#20e030"/>
<ellipse cx="469.8" cy="59.2" rx="1.72" ry="1.72" fill="#d8b890"/>
<ellipse cx="473.7" cy="53.1" rx="1.22" ry="1.22" fill="#9030e0"/>
<ellipse cx="482.8" cy="61.2" rx="1.82" ry="1.82" fill="#f0f0f0"/>
<ellipse cx="476.9" cy="50.9" rx="1.80" ry="1.80" fill="#801890"/>
<ellipse cx="467.7" cy="54.7" rx="1.28" ry="1.28" fill="#ffffff"/>
<ellipse cx="481.6" cy="55.0" rx="1.37" ry="1.37" fill="#2840d8"/>
<ellipse cx="478.9" cy="50.9" rx="1.55" ry="1.55" fill="#f0f0f0"/>
<ellipse cx="471.2" cy="58.7" rx="1.98" ry="1.98" fill="#e01818"/>
<ellipse cx="474.2" cy="47.7" rx="1.76" ry="1.76" fill="#18c8c8"/>
<ellipse cx="487.1" cy="55.9" rx="1.97" ry="1.97" fill="#f0f0f0"/>
<ellipse cx="472.9" cy="49.7" rx="1.76" ry="1.76" fill="#ffffff"/>
<ellipse cx="482.9" cy="54.2" rx="1.99" ry="1.99" fill="#e8d020"/>
<ellipse cx="480.0" cy="52.0" rx="1.52" ry="1.52" fill="#107828"/>
<ellipse cx="485.5" cy="58.5" rx="1.54" ry="1.54" fill="#e01818"/>
<ellipse cx="474.7" cy="51.1" rx="1.54" ry="1.54" fill="#f0f0f0"/>
<ellipse cx="480.1" cy="61.8" rx="1.30" ry="1.30" fill="#18b038"/>
<ellipse cx="474.3" cy="51.5" rx="1.32" ry="1.32" fill="#303030"/>
<ellipse cx="480.8" cy="58.4" rx="1.34" ry="1.34" fill="#303030"/>
<ellipse cx="481.3" cy="50.4" rx="1.38" ry="1.38" fill="#e85890"/>
<ellipse cx="476.6" cy="60.8" rx="1.39" ry="1.39" fill="#ffffff"/>
<ellipse cx="472.6" cy="58.6" rx="1.86" ry="1.86" fill="#e030c8"/>
<ellipse cx="482.0" cy="56.1" rx="1.48" ry="1.48" fill="#e88018"/>
<ellipse cx="473.8" cy="49.3" rx="1.98" ry="1.98" fill="#e8d020"/>
<ellipse cx="470.5" cy="57.0" rx="1.36" ry="1.36" fill="#e030c8"/>
<ellipse cx="482.2" cy="53.3" rx="1.36" ry="1.36" fill="#e8d020"/>
<ellipse cx="472.9" cy="60.8" rx="1.57" ry="1.57" fill="#e01818"/>
<ellipse cx="475.3" cy="59.2" rx="1.75" ry="1.75" fill="#f0f0f0"/>
<ellipse cx="472.1" cy="60.2" rx="1.76" ry="1.76" fill="#801890"/>
<ellipse cx="484.6" cy="57.2" rx="1.72" ry="1.72" fill="#e88018"/>
<ellipse cx="481.1" cy="56.7" rx="1.56" ry="1.56" fill="#e85890"/>
<ellipse cx="472.4" cy="57.7" rx="1.92" ry="1.92" fill="#e88018"/>
<ellipse cx="483.2" cy="57.9" rx="1.70" ry="1.70" fill="#9030e0"/>
<ellipse cx="484.6" cy="54.1" rx="1.22" ry="1.22" fill="#801890"/>
<ellipse cx="477.8" cy="57.1" rx="1.90" ry="1.90" fill="#e85890"/>
<ellipse cx="483.2" cy="52.6" rx="1.59" ry="1.59" fill="#e8d020"/>
<ellipse cx="467.8" cy="55.1" rx="1.33" ry="1.33" fill="#ffffff"/>
<ellipse cx="477.8" cy="47.8" rx="1.66" ry="1.66" fill="#ffffff"/>
<ellipse cx="481.9" cy="54.6" rx="1.71" ry="1.71" fill="#60d848"/>
<ellipse cx="477.8" cy="52.9" rx="1.96" ry="1.96" fill="#ffffff"/>
<ellipse cx="477.7" cy="61.6" rx="1.78" ry="1.78" fill="#60d848"/>
<ellipse cx="480.2" cy="50.3" rx="1.51" ry="1.51" fill="#18b038"/>
<ellipse cx="467.3" cy="53.1" rx="1.54" ry="1.54" fill="#60d848"/>
<ellipse cx="479.1" cy="47.9" rx="1.44" ry="1.44" fill="#107828"/>
<ellipse cx="486.5" cy="54.8" rx="1.38" ry="1.38" fill="#107828"/>
<ellipse cx="476.6" cy="48.8" rx="1.94" ry="1.94" fill="#2840d8"/>
<ellipse cx="483.8" cy="56.6" rx="1.58" ry="1.58" fill="#e88018"/>
<ellipse cx="483.9" cy="48.5" rx="1.73" ry="1.73" fill="#801890"/>
<ellipse cx="476.7" cy="51.0" rx="1.64" ry="1.64" fill="#e030c8"/>
<ellipse cx="483.2" cy="53.9" rx="1.83" ry="1.83" fill="#e88018"/>
<ellipse cx="472.6" cy="52.3" rx="1.40" ry="1.40" fill="#801890"/>
<ellipse cx="481.1" cy="54.1" rx="1.84" ry="1.84" fill="#9030e0"/>
<ellipse cx="474.5" cy="57.0" rx="1.46" ry="1.46" fill="#ffffff"/>
<ellipse cx="475.9" cy="56.7" rx="1.73" ry="1.73" fill="#60d848"/>
<ellipse cx="470.2" cy="51.1" rx="1.51" ry="1.51" fill="#2840d8"/>
<ellipse cx="483.3" cy="48.4" rx="1.87" ry="1.87" fill="#e01818"/>
<ellipse cx="480.7" cy="49.6" rx="1.26" ry="1.26" fill="#d8b890"/>
<ellipse cx="472.2" cy="47.8" rx="1.31" ry="1.31" fill="#e88018"/>
<ellipse cx="470.9" cy="53.6" rx="1.83" ry="1.83" fill="#ffffff"/>
<ellipse cx="485.8" cy="59.2" rx="1.33" ry="1.33" fill="#2840d8"/>
<ellipse cx="480.9" cy="60.9" rx="1.83" ry="1.83" fill="#d8b890"/>
<ellipse cx="471.1" cy="57.6" rx="1.62" ry="1.62" fill="#303030"/>
<ellipse cx="480.9" cy="48.1" rx="1.29" ry="1.29" fill="#801890"/>
<ellipse cx="471.9" cy="48.4" rx="1.59" ry="1.59" fill="#18b038"/>
<ellipse cx="477.1" cy="61.1" rx="1.76" ry="1.76" fill="#e88018"/>
<ellipse cx="477.4" cy="55.1" rx="1.89" ry="1.89" fill="#e01818"/>
<ellipse cx="470.4" cy="51.4" rx="1.76" ry="1.76" fill="#ffffff"/>
<ellipse cx="480.8" cy="60.0" rx="1.50" ry="1.50" fill="#801890"/>
<ellipse cx="470.8" cy="52.1" rx="1.72" ry="1.72" fill="#e01818"/>
<ellipse cx="479.7" cy="57.4" rx="1.95" ry="1.95" fill="#e85890"/>
<ellipse cx="477.1" cy="58.7" rx="1.32" ry="1.32" fill="#ffffff"/>
<ellipse cx="481.9" cy="56.5" rx="1.47" ry="1.47" fill="#60d848"/>
<ellipse cx="474.1" cy="59.0" rx="1.64" ry="1.64" fill="#ffffff"/>
<ellipse cx="472.9" cy="51.8" rx="1.40" ry="1.40" fill="#18b038"/>
<ellipse cx="484.2" cy="51.0" rx="1.86" ry="1.86" fill="#107828"/>
<ellipse cx="485.1" cy="51.8" rx="1.36" ry="1.36" fill="#ffffff"/>
<line x1="467.8" y1="128.9" x2="479.8" y2="130.1" stroke="#20b0d0" stroke-width="0.6"/>
<line x1="479.8" y1="130.1" x2="488.4" y2="125.1" stroke="#20c0d0" stroke-width="0.6"/>
<line x1="460.3" y1="142.7" x2="470.8" y2="137.7" stroke="#3050e0" stroke-width="0.6"/>
<line x1="446.4" y1="144.7" x2="460.3" y2="148.2" stroke="#d020a0" stroke-width="0.6"/>
<line x1="475.3" y1="143.2" x2="482.9" y2="149.0" stroke="#20c060" stroke-width="0.6"/>
<line x1="482.9" y1="149.0" x2="488.4" y2="145.2" stroke="#20c060" stroke-width="0.6"/>
<line x1="449.5" y1="140.9" x2="454.0" y2="146.4" stroke="#d02080" stroke-width="0.6"/>
<circle cx="461.0" cy="129.6" r="2" fill="none" stroke="#c020c0" stroke-width="0.6"/>
<ellipse cx="461.0" cy="125.9" rx="1.60" ry="2.00" fill="#e020e0" transform="rotate(15 461.0 125.9)"/>
<ellipse cx="479.8" cy="125.4" rx="1.60" ry="2.00" fill="#f0f0c0" transform="rotate(15 479.8 125.4)"/>
<ellipse cx="492.1" cy="129.4" rx="1.60" ry="2.00" fill="#20e070" transform="rotate(15 492.1 129.4)"/>
<ellipse cx="489.9" cy="134.6" rx="1.60" ry="2.00" fill="#e070c0" transform="rotate(15 489.9 134.6)"/>
<ellipse cx="462.8" cy="138.2" rx="1.60" ry="2.00" fill="#ff9040" transform="rotate(15 462.8 138.2)"/>
<ellipse cx="463.6" cy="139.4" rx="1.60" ry="2.00" fill="#30d0d0" transform="rotate(15 463.6 139.4)"/>
<ellipse cx="449.5" cy="140.9" rx="1.60" ry="2.00" fill="#20e050" transform="rotate(15 449.5 140.9)"/>
<ellipse cx="471.6" cy="141.4" rx="1.60" ry="2.00" fill="#f0e8d0" transform="rotate(15 471.6 141.4)"/>
<ellipse cx="475.3" cy="143.2" rx="1.60" ry="2.00" fill="#30d060" transform="rotate(15 475.3 143.2)"/>
<ellipse cx="487.9" cy="144.7" rx="1.60" ry="2.00" fill="#e020e0" transform="rotate(15 487.9 144.7)"/>
<ellipse cx="486.5" cy="146.6" rx="1.60" ry="2.00" fill="#20c0d0" transform="rotate(15 486.5 146.6)"/>
<ellipse cx="439.4" cy="144.7" rx="1.60" ry="2.00" fill="#e0c0a0" transform="rotate(15 439.4 144.7)"/>
<ellipse cx="446.4" cy="152.0" rx="1.60" ry="2.00" fill="#ff9030" transform="rotate(15 446.4 152.0)"/>
<ellipse cx="473.6" cy="153.2" rx="1.60" ry="2.00" fill="#e05020" transform="rotate(15 473.6 153.2)"/>
<ellipse cx="462.0" cy="158.2" rx="1.60" ry="2.00" fill="#f0d8c0" transform="rotate(15 462.0 158.2)"/>
<ellipse cx="509.7" cy="153.5" rx="1.60" ry="2.00" fill="#f0f0e0" transform="rotate(15 509.7 153.5)"/>
<ellipse cx="502.2" cy="163.3" rx="1.60" ry="2.00" fill="#d030d0" transform="rotate(15 502.2 163.3)"/>
</g>
<g font-family='"Liberation Sans", Arial, sans-serif'>
<text x="1.8" y="51.0" font-size="13.4" text-anchor="start" fill="#000" stroke="#000" stroke-width="0.2" font-weight="bold">A</text>
<text x="7.0" y="60.8" font-size="8.6" text-anchor="start" fill="#000" stroke="#000" stroke-width="0.2" textLength="78.0" lengthAdjust="spacingAndGlyphs">Overlay of 3D Images</text>
<text x="115.6" y="14.0" font-size="8.6" text-anchor="start" fill="#000" stroke="#000" stroke-width="0.2" textLength="81.0" lengthAdjust="spacingAndGlyphs">Tumor organoid images</text>
<text x="134.0" y="197.5" font-size="8.6" text-anchor="start" fill="#000" stroke="#000" stroke-width="0.2" textLength="49.5" lengthAdjust="spacingAndGlyphs">NK cell images</text>
<text x="220.0" y="14.0" font-size="8.6" text-anchor="start" fill="#000" stroke="#000" stroke-width="0.2" textLength="85.0" lengthAdjust="spacingAndGlyphs">Tumor cell segmentation</text>
<text x="230.0" y="197.8" font-size="8.6" text-anchor="start" fill="#000" stroke="#000" stroke-width="0.2" textLength="68.0" lengthAdjust="spacingAndGlyphs">NK cell segmentation</text>
<text x="328" y="6.6" font-size="8.6" fill="#000" stroke="#000" stroke-width="0.2" textLength="84" lengthAdjust="spacingAndGlyphs"><tspan fill="#4f8fd8" stroke="#4f8fd8" font-style="italic">Live</tspan> and <tspan fill="#b8b430" stroke="#b8b430" font-style="italic">dead</tspan> tumor cell</text>
<text x="348.0" y="14.0" font-size="8.6" text-anchor="start" fill="#000" stroke="#000" stroke-width="0.2" textLength="43.5" lengthAdjust="spacingAndGlyphs">classification</text>
<text x="335.8" y="197.5" font-size="8.6" fill="#000" stroke="#000" stroke-width="0.2" textLength="68.8" lengthAdjust="spacingAndGlyphs"><tspan fill="#d42030" stroke="#d42030" font-style="italic">P-NK</tspan> and <tspan fill="#2fa040" stroke="#2fa040" font-style="italic">NP-NK</tspan> cell</text>
<text x="348.0" y="205.6" font-size="8.6" text-anchor="start" fill="#000" stroke="#000" stroke-width="0.2" textLength="43.5" lengthAdjust="spacingAndGlyphs">classification</text>
<text x="443.0" y="14.0" font-size="8.6" text-anchor="start" fill="#000" stroke="#000" stroke-width="0.2" textLength="65.5" lengthAdjust="spacingAndGlyphs">Tumor cell tracking</text>
<text x="451.0" y="197.5" font-size="8.6" text-anchor="start" fill="#000" stroke="#000" stroke-width="0.2" textLength="52.5" lengthAdjust="spacingAndGlyphs">NK cell tracking</text>
<text x="7.5" y="246.8" font-size="8.6" text-anchor="start" fill="#000" stroke="#000" stroke-width="0.2" textLength="38.5" lengthAdjust="spacingAndGlyphs">#1: SiQ-3D</text>
<text x="7.5" y="259.3" font-size="8.6" text-anchor="start" fill="#000" stroke="#000" stroke-width="0.2" textLength="72.8" lengthAdjust="spacingAndGlyphs">#2: 3DeeCellTracker</text>
<text x="7.5" y="271.8" font-size="8.6" text-anchor="start" fill="#000" stroke="#000" stroke-width="0.2" textLength="40.7" lengthAdjust="spacingAndGlyphs">#3: Stardist</text>
<text x="7.5" y="284.3" font-size="8.6" text-anchor="start" fill="#000" stroke="#000" stroke-width="0.2" textLength="43.9" lengthAdjust="spacingAndGlyphs">#4: Cellpose</text>
<text x="7.5" y="296.8" font-size="8.6" text-anchor="start" fill="#000" stroke="#000" stroke-width="0.2" textLength="35.2" lengthAdjust="spacingAndGlyphs">#5: Imaris</text>
<line x1="201.5" y1="57.2" x2="215.5" y2="57.2" stroke="#666" stroke-width="0.7"/>
<polygon points="215.5,57.2 212.3,58.7 212.3,55.7" fill="#666"/>
<line x1="201.5" y1="148.2" x2="215.5" y2="148.2" stroke="#666" stroke-width="0.7"/>
<polygon points="215.5,148.2 212.3,149.7 212.3,146.7" fill="#666"/>
<line x1="308.5" y1="57.2" x2="322.5" y2="57.2" stroke="#666" stroke-width="0.7"/>
<polygon points="322.5,57.2 319.3,58.7 319.3,55.7" fill="#666"/>
<line x1="308.5" y1="148.2" x2="322.5" y2="148.2" stroke="#666" stroke-width="0.7"/>
<polygon points="322.5,148.2 319.3,149.7 319.3,146.7" fill="#666"/>
<line x1="415.0" y1="57.2" x2="428.5" y2="57.2" stroke="#666" stroke-width="0.7"/>
<polygon points="428.5,57.2 425.3,58.7 425.3,55.7" fill="#666"/>
<line x1="415.0" y1="148.2" x2="428.5" y2="148.2" stroke="#666" stroke-width="0.7"/>
<polygon points="428.5,148.2 425.3,149.7 425.3,146.7" fill="#666"/>
<line x1="110.5" y1="59.5" x2="92.2" y2="96.3" stroke="#666" stroke-width="0.7"/>
<polygon points="92.2,96.3 92.3,92.8 95.0,94.1" fill="#666"/>
<line x1="110.5" y1="152.8" x2="92.2" y2="116.8" stroke="#666" stroke-width="0.7"/>
<polygon points="92.2,116.8 95.0,119.0 92.3,120.3" fill="#666"/>
<rect x="99.6" y="220.6" width="95.1" height="91.8" fill="#fff" stroke="#999" stroke-width="0.7"/>
<line x1="98.2" y1="312.4" x2="99.6" y2="312.4" stroke="#999" stroke-width="0.6"/>
<text x="97.9" y="314.9" font-size="7.0" text-anchor="end" fill="#000" stroke="#000" stroke-width="0.2">0.0</text>
<line x1="98.2" y1="289.4" x2="99.6" y2="289.4" stroke="#999" stroke-width="0.6"/>
<text x="97.9" y="291.9" font-size="7.0" text-anchor="end" fill="#000" stroke="#000" stroke-width="0.2">0.2</text>
<line x1="98.2" y1="266.5" x2="99.6" y2="266.5" stroke="#999" stroke-width="0.6"/>
<text x="97.9" y="269.0" font-size="7.0" text-anchor="end" fill="#000" stroke="#000" stroke-width="0.2">0.4</text>
<line x1="98.2" y1="243.6" x2="99.6" y2="243.6" stroke="#999" stroke-width="0.6"/>
<text x="97.9" y="246.1" font-size="7.0" text-anchor="end" fill="#000" stroke="#000" stroke-width="0.2">0.6</text>
<line x1="98.2" y1="220.6" x2="99.6" y2="220.6" stroke="#999" stroke-width="0.6"/>
<text x="97.9" y="223.1" font-size="7.0" text-anchor="end" fill="#000" stroke="#000" stroke-width="0.2">0.8</text>
<rect x="105.90" y="233.80" width="6.30" height="78.60" fill="#000"/>
<rect x="112.50" y="234.67" width="5.90" height="77.73" fill="#fff" stroke="#555" stroke-width="0.55"/>
<rect x="130.10" y="255.02" width="6.30" height="57.38" fill="#000"/>
<rect x="136.70" y="281.72" width="5.90" height="30.68" fill="#fff" stroke="#555" stroke-width="0.55"/>
<rect x="154.30" y="241.25" width="6.30" height="71.14" fill="#000"/>
<rect x="160.90" y="255.32" width="5.90" height="57.08" fill="#fff" stroke="#555" stroke-width="0.55"/>
<rect x="178.50" y="259.04" width="6.30" height="53.36" fill="#000"/>
<rect x="185.10" y="297.78" width="5.90" height="14.62" fill="#fff" stroke="#555" stroke-width="0.55"/>
<line x1="112.2" y1="312.4" x2="112.2" y2="314.0" stroke="#999" stroke-width="0.6"/>
<text x="112.2" y="319.8" font-size="7.0" text-anchor="middle" fill="#000" stroke="#000" stroke-width="0.2">#1</text>
<line x1="136.4" y1="312.4" x2="136.4" y2="314.0" stroke="#999" stroke-width="0.6"/>
<text x="136.4" y="319.8" font-size="7.0" text-anchor="middle" fill="#000" stroke="#000" stroke-width="0.2">#2</text>
<line x1="160.6" y1="312.4" x2="160.6" y2="314.0" stroke="#999" stroke-width="0.6"/>
<text x="160.6" y="319.8" font-size="7.0" text-anchor="middle" fill="#000" stroke="#000" stroke-width="0.2">#3</text>
<line x1="184.8" y1="312.4" x2="184.8" y2="314.0" stroke="#999" stroke-width="0.6"/>
<text x="184.8" y="319.8" font-size="7.0" text-anchor="middle" fill="#000" stroke="#000" stroke-width="0.2">#4</text>
<text x="148.0" y="228.8" font-size="7.8" text-anchor="middle" fill="#000" stroke="#000" stroke-width="0.2">Avg IoU</text>
<text x="74.3" y="220.8" font-size="12.8" text-anchor="start" fill="#000" stroke="#000" stroke-width="0.2" font-weight="bold">B</text>
<rect x="224.4" y="220.6" width="96.0" height="91.8" fill="#fff" stroke="#999" stroke-width="0.7"/>
<line x1="223.0" y1="312.4" x2="224.4" y2="312.4" stroke="#999" stroke-width="0.6"/>
<text x="222.7" y="314.9" font-size="7.0" text-anchor="end" fill="#000" stroke="#000" stroke-width="0.2">0.0</text>
<line x1="223.0" y1="294.0" x2="224.4" y2="294.0" stroke="#999" stroke-width="0.6"/>
<text x="222.7" y="296.5" font-size="7.0" text-anchor="end" fill="#000" stroke="#000" stroke-width="0.2">0.2</text>
<line x1="223.0" y1="275.7" x2="224.4" y2="275.7" stroke="#999" stroke-width="0.6"/>
<text x="222.7" y="278.2" font-size="7.0" text-anchor="end" fill="#000" stroke="#000" stroke-width="0.2">0.4</text>
<line x1="223.0" y1="257.3" x2="224.4" y2="257.3" stroke="#999" stroke-width="0.6"/>
<text x="222.7" y="259.8" font-size="7.0" text-anchor="end" fill="#000" stroke="#000" stroke-width="0.2">0.6</text>
<line x1="223.0" y1="239.0" x2="224.4" y2="239.0" stroke="#999" stroke-width="0.6"/>
<text x="222.7" y="241.5" font-size="7.0" text-anchor="end" fill="#000" stroke="#000" stroke-width="0.2">0.8</text>
<line x1="223.0" y1="220.6" x2="224.4" y2="220.6" stroke="#999" stroke-width="0.6"/>
<text x="222.7" y="223.1" font-size="7.0" text-anchor="end" fill="#000" stroke="#000" stroke-width="0.2">1.0</text>
<rect x="230.20" y="239.88" width="6.30" height="72.52" fill="#000"/>
<rect x="236.80" y="239.26" width="5.70" height="73.14" fill="#fff" stroke="#555" stroke-width="0.55"/>
<rect x="254.35" y="254.11" width="6.30" height="58.29" fill="#000"/>
<rect x="260.95" y="280.11" width="5.70" height="32.29" fill="#fff" stroke="#555" stroke-width="0.55"/>
<rect x="278.50" y="244.93" width="6.30" height="67.47" fill="#000"/>
<rect x="285.10" y="255.78" width="5.70" height="56.62" fill="#fff" stroke="#555" stroke-width="0.55"/>
<rect x="302.65" y="255.94" width="6.30" height="56.46" fill="#000"/>
<rect x="309.25" y="293.42" width="5.70" height="18.98" fill="#fff" stroke="#555" stroke-width="0.55"/>
<line x1="236.5" y1="312.4" x2="236.5" y2="314.0" stroke="#999" stroke-width="0.6"/>
<text x="236.5" y="319.8" font-size="7.0" text-anchor="middle" fill="#000" stroke="#000" stroke-width="0.2">#1</text>
<line x1="260.6" y1="312.4" x2="260.6" y2="314.0" stroke="#999" stroke-width="0.6"/>
<text x="260.6" y="319.8" font-size="7.0" text-anchor="middle" fill="#000" stroke="#000" stroke-width="0.2">#2</text>
<line x1="284.8" y1="312.4" x2="284.8" y2="314.0" stroke="#999" stroke-width="0.6"/>
<text x="284.8" y="319.8" font-size="7.0" text-anchor="middle" fill="#000" stroke="#000" stroke-width="0.2">#3</text>
<line x1="308.9" y1="312.4" x2="308.9" y2="314.0" stroke="#999" stroke-width="0.6"/>
<text x="308.9" y="319.8" font-size="7.0" text-anchor="middle" fill="#000" stroke="#000" stroke-width="0.2">#4</text>
<text x="271.2" y="230.0" font-size="7.8" text-anchor="middle" fill="#000" stroke="#000" stroke-width="0.2">Avg Dice</text>
<rect x="346.9" y="221.3" width="105.3" height="92.1" fill="#fff" stroke="#999" stroke-width="0.7"/>
<line x1="345.5" y1="313.4" x2="346.9" y2="313.4" stroke="#999" stroke-width="0.6"/>
<text x="345.2" y="315.9" font-size="7.0" text-anchor="end" fill="#000" stroke="#000" stroke-width="0.2">0.0</text>
<line x1="345.5" y1="290.4" x2="346.9" y2="290.4" stroke="#999" stroke-width="0.6"/>
<text x="345.2" y="292.9" font-size="7.0" text-anchor="end" fill="#000" stroke="#000" stroke-width="0.2">0.3</text>
<line x1="345.5" y1="267.4" x2="346.9" y2="267.4" stroke="#999" stroke-width="0.6"/>
<text x="345.2" y="269.9" font-size="7.0" text-anchor="end" fill="#000" stroke="#000" stroke-width="0.2">0.6</text>
<line x1="345.5" y1="244.3" x2="346.9" y2="244.3" stroke="#999" stroke-width="0.6"/>
<text x="345.2" y="246.8" font-size="7.0" text-anchor="end" fill="#000" stroke="#000" stroke-width="0.2">0.9</text>
<line x1="345.5" y1="221.3" x2="346.9" y2="221.3" stroke="#999" stroke-width="0.6"/>
<text x="345.2" y="223.8" font-size="7.0" text-anchor="end" fill="#000" stroke="#000" stroke-width="0.2">1.2</text>
<rect x="352.20" y="236.65" width="5.40" height="76.75" fill="#000"/>
<rect x="357.90" y="236.95" width="4.80" height="76.45" fill="#fff" stroke="#555" stroke-width="0.55"/>
<rect x="373.25" y="259.68" width="5.40" height="53.72" fill="#000"/>
<rect x="378.95" y="275.32" width="4.80" height="38.08" fill="#fff" stroke="#555" stroke-width="0.55"/>
<rect x="394.30" y="246.24" width="5.40" height="67.16" fill="#000"/>
<rect x="400.00" y="248.46" width="4.80" height="64.94" fill="#fff" stroke="#555" stroke-width="0.55"/>
<rect x="415.35" y="281.16" width="5.40" height="32.24" fill="#000"/>
<rect x="421.05" y="292.21" width="4.80" height="21.19" fill="#fff" stroke="#555" stroke-width="0.55"/>
<rect x="436.40" y="299.20" width="5.40" height="14.20" fill="#000"/>
<rect x="442.10" y="252.30" width="4.80" height="61.10" fill="#fff" stroke="#555" stroke-width="0.55"/>
<line x1="357.6" y1="313.4" x2="357.6" y2="315.0" stroke="#999" stroke-width="0.6"/>
<text x="357.6" y="320.6" font-size="7.0" text-anchor="middle" fill="#000" stroke="#000" stroke-width="0.2">#1</text>
<line x1="378.6" y1="313.4" x2="378.6" y2="315.0" stroke="#999" stroke-width="0.6"/>
<text x="378.6" y="320.6" font-size="7.0" text-anchor="middle" fill="#000" stroke="#000" stroke-width="0.2">#2</text>
<line x1="399.7" y1="313.4" x2="399.7" y2="315.0" stroke="#999" stroke-width="0.6"/>
<text x="399.7" y="320.6" font-size="7.0" text-anchor="middle" fill="#000" stroke="#000" stroke-width="0.2">#3</text>
<line x1="420.8" y1="313.4" x2="420.8" y2="315.0" stroke="#999" stroke-width="0.6"/>
<text x="420.8" y="320.6" font-size="7.0" text-anchor="middle" fill="#000" stroke="#000" stroke-width="0.2">#4</text>
<line x1="441.8" y1="313.4" x2="441.8" y2="315.0" stroke="#999" stroke-width="0.6"/>
<text x="441.8" y="320.6" font-size="7.0" text-anchor="middle" fill="#000" stroke="#000" stroke-width="0.2">#5</text>
<text x="365.3" y="229.4" font-size="7.8" text-anchor="start" fill="#000" stroke="#000" stroke-width="0.2">Accuracy</text>
<text x="364.7" y="238.0" font-size="7.8" text-anchor="start" fill="#000" stroke="#000" stroke-width="0.2" textLength="86.8" lengthAdjust="spacingAndGlyphs">(single-cell identification)</text>
<rect x="458.2" y="225.6" width="16.1" height="5.5" fill="#000"/>
<rect x="458.5" y="235.1" width="15.6" height="5" fill="#fff" stroke="#555" stroke-width="0.55"/>
<text x="476.6" y="230.8" font-size="7.5" text-anchor="start" fill="#000" stroke="#000" stroke-width="0.2" textLength="37.6" lengthAdjust="spacingAndGlyphs">Tumor cells</text>
<text x="476.6" y="239.6" font-size="7.5" text-anchor="start" fill="#000" stroke="#000" stroke-width="0.2">NK cells</text>
<rect x="79.8" y="337.4" width="69.1" height="91.9" fill="#fff" stroke="#999" stroke-width="0.7"/>
<line x1="78.4" y1="429.3" x2="79.8" y2="429.3" stroke="#999" stroke-width="0.6"/>
<text x="78.1" y="431.8" font-size="7.0" text-anchor="end" fill="#000" stroke="#000" stroke-width="0.2">0</text>
<line x1="78.4" y1="416.2" x2="79.8" y2="416.2" stroke="#999" stroke-width="0.6"/>
<text x="78.1" y="418.7" font-size="7.0" text-anchor="end" fill="#000" stroke="#000" stroke-width="0.2">5</text>
<line x1="78.4" y1="403.0" x2="79.8" y2="403.0" stroke="#999" stroke-width="0.6"/>
<text x="78.1" y="405.5" font-size="7.0" text-anchor="end" fill="#000" stroke="#000" stroke-width="0.2">10</text>
<line x1="78.4" y1="389.9" x2="79.8" y2="389.9" stroke="#999" stroke-width="0.6"/>
<text x="78.1" y="392.4" font-size="7.0" text-anchor="end" fill="#000" stroke="#000" stroke-width="0.2">15</text>
<line x1="78.4" y1="376.8" x2="79.8" y2="376.8" stroke="#999" stroke-width="0.6"/>
<text x="78.1" y="379.3" font-size="7.0" text-anchor="end" fill="#000" stroke="#000" stroke-width="0.2">20</text>
<line x1="78.4" y1="363.7" x2="79.8" y2="363.7" stroke="#999" stroke-width="0.6"/>
<text x="78.1" y="366.2" font-size="7.0" text-anchor="end" fill="#000" stroke="#000" stroke-width="0.2">25</text>
<line x1="78.4" y1="350.5" x2="79.8" y2="350.5" stroke="#999" stroke-width="0.6"/>
<text x="78.1" y="353.0" font-size="7.0" text-anchor="end" fill="#000" stroke="#000" stroke-width="0.2">30</text>
<line x1="78.4" y1="337.4" x2="79.8" y2="337.4" stroke="#999" stroke-width="0.6"/>
<text x="78.1" y="339.9" font-size="7.0" text-anchor="end" fill="#000" stroke="#000" stroke-width="0.2">35</text>
<rect x="85.30" y="391.75" width="6.30" height="37.55" fill="#000"/>
<rect x="102.60" y="352.63" width="6.30" height="76.67" fill="#000"/>
<rect x="119.90" y="385.98" width="6.30" height="43.32" fill="#000"/>
<rect x="137.20" y="427.20" width="6.30" height="2.10" fill="#000"/>
<line x1="88.0" y1="429.3" x2="88.0" y2="430.9" stroke="#999" stroke-width="0.6"/>
<text x="88.0" y="436.1" font-size="7.0" text-anchor="middle" fill="#000" stroke="#000" stroke-width="0.2">#1</text>
<line x1="105.3" y1="429.3" x2="105.3" y2="430.9" stroke="#999" stroke-width="0.6"/>
<text x="105.3" y="436.1" font-size="7.0" text-anchor="middle" fill="#000" stroke="#000" stroke-width="0.2">#2</text>
<line x1="122.7" y1="429.3" x2="122.7" y2="430.9" stroke="#999" stroke-width="0.6"/>
<text x="122.7" y="436.1" font-size="7.0" text-anchor="middle" fill="#000" stroke="#000" stroke-width="0.2">#3</text>
<line x1="139.9" y1="429.3" x2="139.9" y2="430.9" stroke="#999" stroke-width="0.6"/>
<text x="139.9" y="436.1" font-size="7.0" text-anchor="middle" fill="#000" stroke="#000" stroke-width="0.2">#4</text>
<text x="81.7" y="346.2" font-size="7.8" text-anchor="start" fill="#000" stroke="#000" stroke-width="0.2" textLength="65.8" lengthAdjust="spacingAndGlyphs">Training time (min)</text>
<text x="56.8" y="338.0" font-size="12.6" text-anchor="start" fill="#000" stroke="#000" stroke-width="0.2" font-weight="bold">C</text>
<rect x="178.8" y="337.6" width="105.6" height="92.0" fill="#fff" stroke="#999" stroke-width="0.7"/>
<line x1="177.4" y1="429.6" x2="178.8" y2="429.6" stroke="#999" stroke-width="0.6"/>
<text x="177.1" y="432.1" font-size="7.0" text-anchor="end" fill="#000" stroke="#000" stroke-width="0.2">0</text>
<line x1="177.4" y1="416.0" x2="178.8" y2="416.0" stroke="#999" stroke-width="0.6"/>
<text x="177.1" y="418.5" font-size="7.0" text-anchor="end" fill="#000" stroke="#000" stroke-width="0.2">15</text>
<line x1="177.4" y1="402.4" x2="178.8" y2="402.4" stroke="#999" stroke-width="0.6"/>
<text x="177.1" y="404.9" font-size="7.0" text-anchor="end" fill="#000" stroke="#000" stroke-width="0.2">30</text>
<line x1="177.4" y1="388.8" x2="178.8" y2="388.8" stroke="#999" stroke-width="0.6"/>
<text x="177.1" y="391.3" font-size="7.0" text-anchor="end" fill="#000" stroke="#000" stroke-width="0.2">45</text>
<line x1="177.4" y1="373.7" x2="178.8" y2="373.7" stroke="#999" stroke-width="0.6"/>
<text x="177.1" y="376.2" font-size="7.0" text-anchor="end" fill="#000" stroke="#000" stroke-width="0.2">200</text>
<line x1="177.4" y1="355.6" x2="178.8" y2="355.6" stroke="#999" stroke-width="0.6"/>
<text x="177.1" y="358.1" font-size="7.0" text-anchor="end" fill="#000" stroke="#000" stroke-width="0.2">300</text>
<line x1="177.4" y1="337.6" x2="178.8" y2="337.6" stroke="#999" stroke-width="0.6"/>
<text x="177.1" y="340.1" font-size="7.0" text-anchor="end" fill="#000" stroke="#000" stroke-width="0.2">400</text>
<rect x="183.50" y="409.20" width="5.50" height="20.40" fill="#000"/>
<rect x="189.30" y="409.50" width="5.10" height="20.10" fill="#fff" stroke="#555" stroke-width="0.55"/>
<rect x="204.60" y="406.93" width="5.50" height="22.67" fill="#000"/>
<rect x="210.40" y="407.23" width="5.10" height="22.37" fill="#fff" stroke="#555" stroke-width="0.55"/>
<rect x="225.70" y="424.61" width="5.50" height="4.99" fill="#000"/>
<rect x="231.50" y="424.19" width="5.10" height="5.41" fill="#fff" stroke="#555" stroke-width="0.55"/>
<rect x="246.80" y="367.92" width="5.50" height="61.68" fill="#000"/>
<rect x="252.60" y="342.05" width="5.10" height="87.55" fill="#fff" stroke="#555" stroke-width="0.55"/>
<rect x="267.90" y="424.61" width="5.50" height="4.99" fill="#000"/>
<rect x="273.70" y="424.91" width="5.10" height="4.69" fill="#fff" stroke="#555" stroke-width="0.55"/>
<line x1="189.0" y1="429.6" x2="189.0" y2="431.2" stroke="#999" stroke-width="0.6"/>
<text x="189.0" y="436.1" font-size="7.0" text-anchor="middle" fill="#000" stroke="#000" stroke-width="0.2">#1</text>
<line x1="210.1" y1="429.6" x2="210.1" y2="431.2" stroke="#999" stroke-width="0.6"/>
<text x="210.1" y="436.1" font-size="7.0" text-anchor="middle" fill="#000" stroke="#000" stroke-width="0.2">#2</text>
<line x1="231.2" y1="429.6" x2="231.2" y2="431.2" stroke="#999" stroke-width="0.6"/>
<text x="231.2" y="436.1" font-size="7.0" text-anchor="middle" fill="#000" stroke="#000" stroke-width="0.2">#3</text>
<line x1="252.3" y1="429.6" x2="252.3" y2="431.2" stroke="#999" stroke-width="0.6"/>
<text x="252.3" y="436.1" font-size="7.0" text-anchor="middle" fill="#000" stroke="#000" stroke-width="0.2">#4</text>
<line x1="273.4" y1="429.6" x2="273.4" y2="431.2" stroke="#999" stroke-width="0.6"/>
<text x="273.4" y="436.1" font-size="7.0" text-anchor="middle" fill="#000" stroke="#000" stroke-width="0.2">#5</text>
<rect x="246.3" y="383.6" width="12" height="1.6" fill="#fff"/>
<rect x="177.3" y="382.8" width="3" height="2" fill="#fff"/>
<path d="M176.8 385.1 l3.6 -1.6 M176.8 383.7 l3.6 -1.6" stroke="#555" stroke-width="0.5" fill="none"/>
<text x="180.7" y="346.2" font-size="7.8" text-anchor="start" fill="#000" stroke="#000" stroke-width="0.2" textLength="63.9" lengthAdjust="spacingAndGlyphs">Data analysis time</text>
<text x="180.7" y="354.6" font-size="7.8" text-anchor="start" fill="#000" stroke="#000" stroke-width="0.2" textLength="56.5" lengthAdjust="spacingAndGlyphs">per timepoint (s)</text>
<rect x="347.2" y="337.6" width="74.8" height="92.0" fill="#fff" stroke="#999" stroke-width="0.7"/>
<line x1="345.8" y1="429.1" x2="347.2" y2="429.1" stroke="#999" stroke-width="0.6"/>
<text x="345.5" y="431.6" font-size="7.0" text-anchor="end" fill="#000" stroke="#000" stroke-width="0.2">0.0</text>
<line x1="345.8" y1="408.0" x2="347.2" y2="408.0" stroke="#999" stroke-width="0.6"/>
<text x="345.5" y="410.5" font-size="7.0" text-anchor="end" fill="#000" stroke="#000" stroke-width="0.2">0.3</text>
<line x1="345.8" y1="386.9" x2="347.2" y2="386.9" stroke="#999" stroke-width="0.6"/>
<text x="345.5" y="389.4" font-size="7.0" text-anchor="end" fill="#000" stroke="#000" stroke-width="0.2">0.6</text>
<line x1="345.8" y1="365.8" x2="347.2" y2="365.8" stroke="#999" stroke-width="0.6"/>
<text x="345.5" y="368.3" font-size="7.0" text-anchor="end" fill="#000" stroke="#000" stroke-width="0.2">0.9</text>
<line x1="345.8" y1="344.7" x2="347.2" y2="344.7" stroke="#999" stroke-width="0.6"/>
<text x="345.5" y="347.2" font-size="7.0" text-anchor="end" fill="#000" stroke="#000" stroke-width="0.2">1.2</text>
<rect x="353.50" y="360.53" width="6.20" height="69.07" fill="#000"/>
<rect x="360.00" y="371.73" width="5.80" height="57.87" fill="#fff" stroke="#555" stroke-width="0.55"/>
<rect x="379.50" y="372.13" width="6.20" height="57.47" fill="#000"/>
<rect x="386.00" y="428.98" width="5.80" height="0.62" fill="#fff" stroke="#555" stroke-width="0.55"/>
<rect x="404.20" y="427.34" width="6.20" height="2.26" fill="#000"/>
<rect x="410.70" y="419.55" width="5.80" height="10.05" fill="#fff" stroke="#555" stroke-width="0.55"/>
<line x1="356.8" y1="429.6" x2="356.8" y2="431.2" stroke="#999" stroke-width="0.6"/>
<text x="356.8" y="436.1" font-size="7.0" text-anchor="middle" fill="#000" stroke="#000" stroke-width="0.2">#1</text>
<line x1="381.5" y1="429.6" x2="381.5" y2="431.2" stroke="#999" stroke-width="0.6"/>
<text x="381.5" y="436.1" font-size="7.0" text-anchor="middle" fill="#000" stroke="#000" stroke-width="0.2">#2</text>
<line x1="408.3" y1="429.6" x2="408.3" y2="431.2" stroke="#999" stroke-width="0.6"/>
<text x="408.3" y="436.1" font-size="7.0" text-anchor="middle" fill="#000" stroke="#000" stroke-width="0.2">#5</text>
<text x="350.2" y="345.4" font-size="7.8" text-anchor="start" fill="#000" stroke="#000" stroke-width="0.2">Accuracy</text>
<text x="349.4" y="353.8" font-size="7.8" text-anchor="start" fill="#000" stroke="#000" stroke-width="0.2" textLength="71.3" lengthAdjust="spacingAndGlyphs">(single-cell tracking)</text>
<text x="320.8" y="338.0" font-size="12.6" text-anchor="start" fill="#000" stroke="#000" stroke-width="0.2" font-weight="bold">D</text>
</g>
</svg>
</body></html>
